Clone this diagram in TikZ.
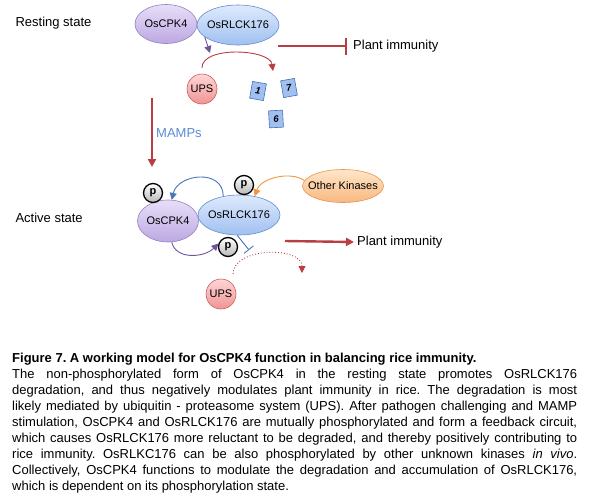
\documentclass[tikz,border=0pt]{standalone}
\usepackage{fontspec}
\setmainfont{Liberation Sans}
\usepackage{xcolor}
\usepackage{tikz}
\usetikzlibrary{shapes.geometric,arrows.meta}
\setlength{\parindent}{0pt}
\frenchspacing
\definecolor{cpktop}{RGB}{232,222,248}
\definecolor{cpkbot}{RGB}{188,168,226}
\definecolor{cpkline}{RGB}{150,128,196}
\definecolor{rlcktop}{RGB}{222,234,253}
\definecolor{rlckbot}{RGB}{160,192,240}
\definecolor{rlckline}{RGB}{100,140,205}
\definecolor{upstop}{RGB}{255,214,214}
\definecolor{upsbot}{RGB}{240,148,148}
\definecolor{upsline}{RGB}{200,92,92}
\definecolor{kintop}{RGB}{255,230,200}
\definecolor{kinbot}{RGB}{248,184,128}
\definecolor{kinline}{RGB}{226,150,80}
\definecolor{fragfill}{RGB}{160,192,242}
\definecolor{fragline}{RGB}{70,110,180}
\definecolor{arrred}{RGB}{185,62,68}
\definecolor{arrpurple}{RGB}{112,84,156}
\definecolor{arrblue}{RGB}{72,118,186}
\definecolor{arrorange}{RGB}{240,150,60}
\definecolor{mampblue}{RGB}{90,140,210}

\begin{document}
\begin{tikzpicture}[x=1pt, y=-1pt,
  prot/.style={ellipse, draw, line width=0.6pt, inner sep=0pt, inner xsep=-8pt, font=\fontsize{11}{12}\selectfont},
  cpk/.style={prot, draw=cpkline, top color=cpktop, bottom color=cpkbot, minimum width=62pt, minimum height=39pt},
  rlck/.style={prot, draw=rlckline, top color=rlcktop, bottom color=rlckbot, minimum width=82pt, minimum height=40pt},
  kin/.style={prot, draw=kinline, top color=kintop, bottom color=kinbot, minimum width=81pt, minimum height=33pt},
  ups/.style={prot, circle, inner sep=0pt, draw=upsline, top color=upstop, bottom color=upsbot, minimum size=30pt},
  frag/.style={rectangle, draw=fragline, fill=fragfill, line width=0.6pt, minimum width=14pt, minimum height=17pt, inner sep=0pt, font=\bfseries\itshape\fontsize{9.5}{9.5}\selectfont},
  phos/.style={circle, draw=black, line width=1.3pt, top color=white, bottom color=black!28, minimum size=19pt, inner sep=0pt, font=\bfseries\fontsize{11}{11}\selectfont},
  lbl/.style={font=\fontsize{13}{15}\selectfont},
  redarrow/.style={draw=arrred, line width=2.4pt, -{Triangle[length=8pt,width=8pt]}},
  redbar/.style={draw=arrred, line width=2.4pt, -{Bar[width=17pt]}},
  thinred/.style={draw=arrred, line width=0.9pt, -{Triangle[length=7pt,width=7pt]}},
  dotred/.style={draw=arrred, line width=0.9pt, dotted, -{Triangle[length=7pt,width=7pt]}},
  purparrow/.style={draw=arrpurple, line width=0.9pt, -{Triangle[length=7pt,width=7pt]}},
  bluearc/.style={draw=arrblue, line width=0.9pt, -{Triangle[length=7pt,width=7pt]}},
  orangearc/.style={draw=arrorange, line width=0.9pt, -{Triangle[length=7pt,width=7pt]}},
  bluebar/.style={draw=arrblue, line width=0.9pt, -{Bar[width=12pt]}},
  capt/.style={anchor=north west, inner sep=0pt, text width=565pt, align=justify, font=\fontsize{13}{16}\selectfont}]
\useasboundingbox (0,0) rectangle (589,496);

\node[lbl, anchor=west] (restR) at (12,23) {Resting state};
\node[cpk] (cpkR) at (166,24) {OsCPK4};
\node[rlck] (rlckR) at (238,25) {OsRLCK176};
\node[ups] (upsR) at (202,89) {UPS};
\node[frag, rotate=-10] (fragA) at (258,91) {1};
\node[frag, rotate=10] (fragB) at (289,88) {7};
\node[frag, rotate=3] (fragC) at (276,119) {6};
\node[lbl, anchor=west, inner sep=0pt] (piR) at (353,46) {Plant immunity};
\node[lbl, anchor=west, inner sep=0pt, text=mampblue] (mamps) at (156,133) {MAMPs};
\coordinate (cutR) at (210,53);
\coordinate (degR) at (273,71);
\coordinate (redR) at (278,46);
\coordinate (mampTop) at (152,98);
\coordinate (mampBot) at (152,167);
\draw[purparrow] (rlckR.200) -- (cutR);
\draw[thinred] ([yshift=6pt]upsR.north) .. controls +(0,-22) and +(-3,-22) .. (degR);
\draw[redbar] (redR) -- ([xshift=-6pt]piR.west);
\draw[redarrow] (mampTop) -- (mampBot);

\node[lbl, anchor=west] (actA) at (12,218) {Active state};
\node[cpk, minimum width=61pt, minimum height=42pt] (cpkA) at (168,221) {OsCPK4};
\node[rlck] (rlckA) at (239,215) {OsRLCK176};
\node[kin] (okA) at (343,186) {Other Kinases};
\node[ups] (upsA) at (221,294) {UPS};
\node[phos] (pA) at (153,193) {p};
\node[phos] (pB) at (244,185) {p};
\node[phos] (pC) at (228,247) {p};
\node[lbl, anchor=west, inner sep=0pt] (piA) at (357,242) {Plant immunity};
\coordinate (blockA) at (249,250);
\coordinate (degAs) at (233,274);
\coordinate (degAe) at (302,273);
\coordinate (redA) at (285,241);
\draw[bluearc] (rlckA.130) .. controls +(0,-28) and +(6,-26) .. (cpkA.80);
\draw[orangearc] (okA.172) .. controls +(-14,-10) and +(6,-18) .. (rlckA.50);
\draw[purparrow] (cpkA.-80) .. controls +(4,18) and +(-14,14) .. (pC.160);
\draw[bluebar] (rlckA.-95) -- (blockA);
\draw[dotred] (degAs) .. controls +(0,-27) and +(0,-27) .. (degAe);
\draw[redarrow] (redA) -- ([xshift=-3pt]piA.west);

\node[capt] (capt) at (12,351) {\strut\textbf{Figure 7. A working model for OsCPK4 function in balancing rice immunity.}\\
The non-phosphorylated form of OsCPK4 in the resting state promotes OsRLCK176\linebreak
degradation, and thus negatively modulates plant immunity in rice. The degradation is most\linebreak
likely mediated by ubiquitin - proteasome system (UPS). After pathogen challenging and MAMP\linebreak
stimulation, OsCPK4 and OsRLCK176 are mutually phosphorylated and form a feedback circuit,\linebreak
which causes OsRLCK176 more reluctant to be degraded, and thereby positively contributing to\linebreak
rice immunity. OsRLKC176 can be also phosphorylated by other unknown kinases \textit{in vivo}.\linebreak
Collectively, OsCPK4 functions to modulate the degradation and accumulation of OsRLCK176,\linebreak
which is dependent on its phosphorylation state.};
\end{tikzpicture}
\end{document}
